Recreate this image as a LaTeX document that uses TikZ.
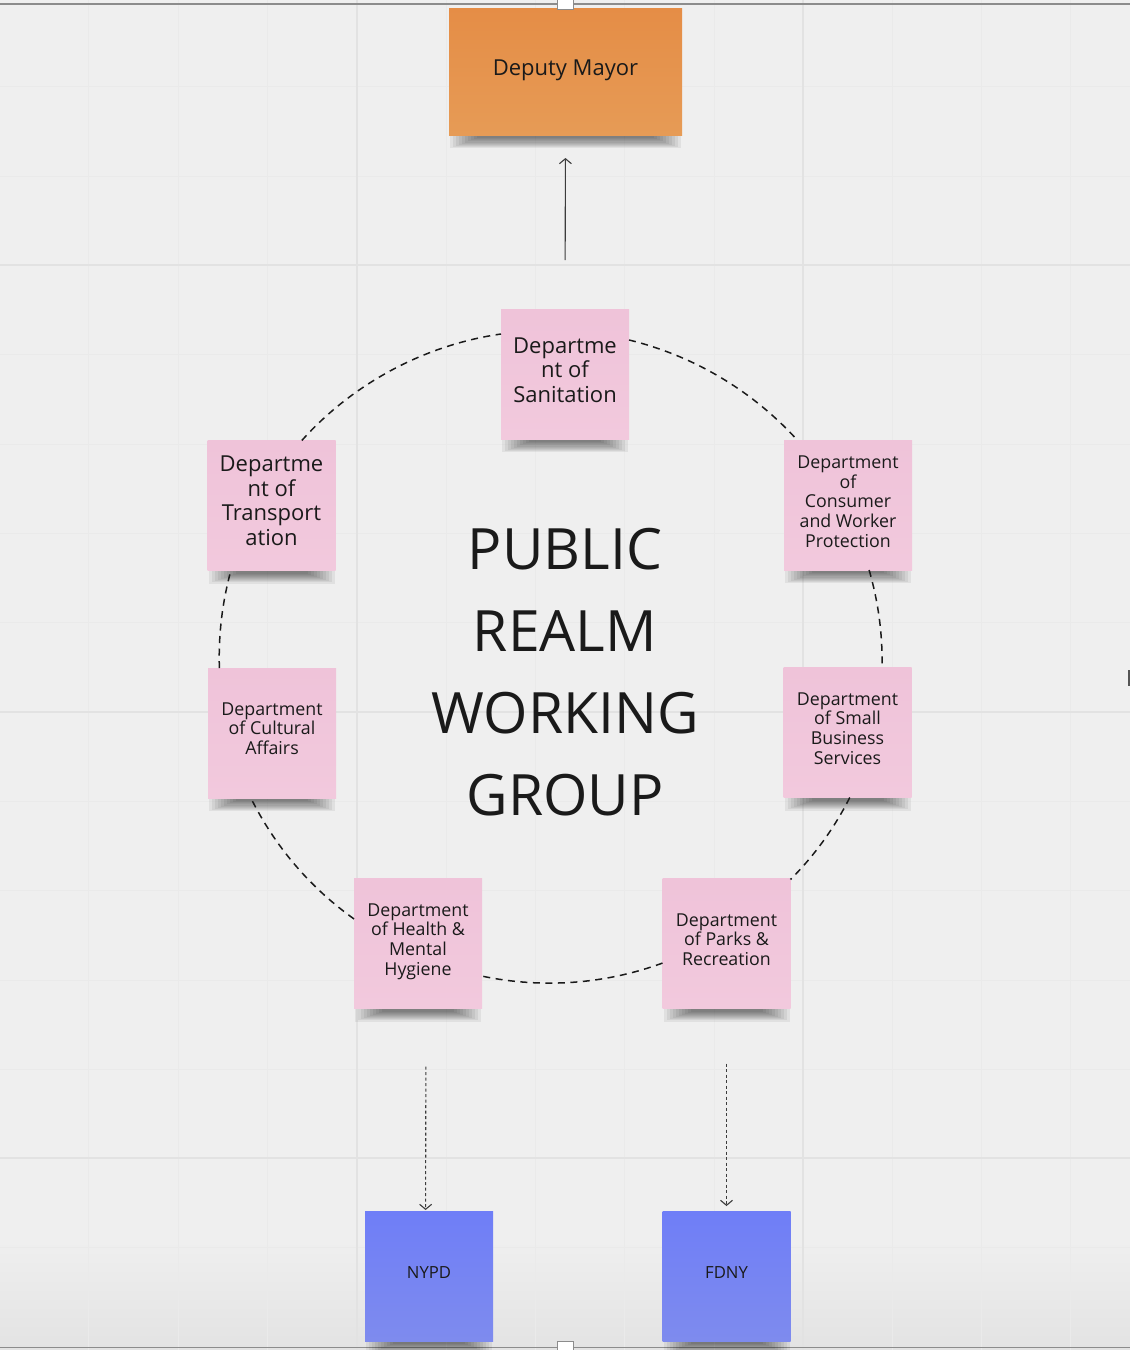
\documentclass[tikz,border=0pt]{standalone}
\usepackage{fontspec}
\setmainfont{Open Sans}
\usetikzlibrary{arrows.meta,backgrounds}
\definecolor{board}{HTML}{EFEFEF}
\definecolor{gridmajor}{HTML}{E2E2E2}
\definecolor{gridminor}{HTML}{EAEAEA}
\definecolor{inkdark}{HTML}{1A1A1A}
\definecolor{frameline}{HTML}{8C8C8C}
\definecolor{pinktop}{HTML}{EFC3D9}
\definecolor{pinkbot}{HTML}{F2C9DD}
\definecolor{bluetop}{HTML}{6F7EF7}
\definecolor{bluebot}{HTML}{7E8BEE}
\definecolor{orangetop}{HTML}{E58D46}
\definecolor{orangebot}{HTML}{E69B56}
\newcommand{\lift}[1]{\\[\dimexpr #1-\baselineskip\relax]\mbox{}}
\tikzstyle{note}=[rectangle, outer sep=0pt, inner sep=0pt, align=center, text=inkdark]
\tikzstyle{pinknote}=[note, minimum width=128pt, minimum height=130pt, top color=pinktop, bottom color=pinkbot]
\tikzstyle{bluenote}=[note, minimum width=128pt, minimum height=130pt, top color=bluetop, bottom color=bluebot, font=\fontsize{16.7}{20}\selectfont]
\tikzstyle{bignote}=[font=\fontsize{22}{24.6}\selectfont]
\tikzstyle{smallnote}=[font=\fontsize{17.8}{19.8}\selectfont]
\tikzstyle{handle}=[rectangle, draw=frameline, fill=white, line width=.8pt, outer sep=0pt, minimum width=16pt, minimum height=11pt]
\tikzstyle{ring}=[draw=inkdark, line width=1.5pt, dash pattern=on 7pt off 5.5pt, looseness=.87]
\tikzstyle{link}=[draw=inkdark!85, line width=1.1pt, -{Straight Barb[length=5pt,width=12pt]}]
\newcommand{\note}{\node[pinknote]}
\newcommand{\notedrop}[1]{%
  \foreach \d in {0,...,9}
    \fill[black, opacity=.06] ([xshift=1pt+3*\d pt]#1.south west) rectangle ([xshift=-1pt-3*\d pt, yshift=-13pt+1.1*\d pt]#1.south east);
}

\begin{document}
\begin{tikzpicture}[x=1pt, y=-1pt
  ,every edge/.style={draw}
]
\useasboundingbox (0,0) rectangle (1130,1350);
\node[note, minimum width=233pt, minimum height=127pt, top color=orangetop, bottom color=orangebot, font=\fontsize{22}{24.6}\selectfont] (mayor) at (565.5,71.5) {Deputy Mayor\lift{7pt}};
\note[bignote] (san) at (565,374) {Departme\\nt of\\Sanitation\lift{8pt}};
\note[smallnote] (cons) at (848,505) {Department\\of\\Consumer\\and Worker\\Protection\lift{7pt}};
\note[smallnote] (biz) at (847.5,732.5) {Department\\of Small\\Business\\Services\lift{8pt}};
\note[smallnote] (parks) at (726.5,943.5) {Department\\of Parks \&\\Recreation\lift{8pt}};
\note[smallnote] (health) at (418,943.5) {Department\\of Health \&\\Mental\\Hygiene\lift{8pt}};
\note[smallnote] (cult) at (272,733) {Department\\of Cultural\\Affairs\lift{9pt}};
\note[bignote] (trans) at (271.5,505.5) {Departme\\nt of\\Transport\\ation\lift{10pt}};
\node[bluenote] (nypd) at (429,1276) {NYPD\lift{6pt}};
\node[bluenote] (fdny) at (726.5,1276) {FDNY\lift{6pt}};
\node[note, font=\fontsize{57}{82}\selectfont] (title) at (565,672) {PUBLIC\\REALM\\WORKING\\GROUP};
\node[handle] (handletop) at (565,4) {};
\node[handle] (handlebot) at (565,1346.5) {};
\begin{scope}[on background layer]
\fill[board] (0,0) rectangle (1130,1350);
\shade[top color=board, bottom color=black!11] (0,1240) rectangle (1130,1350);
\foreach \gx in {-2.5,88,178,267,446,535,624,714,892,981,1070}
  \draw[gridminor, line width=1pt] (\gx,0) -- (\gx,1350);
\foreach \gy in {86,176,354,444,533,622,801,890,980,1069,1247}
  \draw[gridminor, line width=1pt] (0,\gy) -- (1130,\gy);
\foreach \gx in {357,803}
  \draw[gridmajor, line width=2.2pt] (\gx,0) -- (\gx,1350);
\foreach \gy in {265,712,1158}
  \draw[gridmajor, line width=2.2pt] (0,\gy) -- (1130,\gy);
\draw[frameline, line width=1.5pt] (0,3.8) -- (1130,3.8);
\draw[frameline, line width=1.5pt] (0,1347.5) -- (1130,1347.5);
\fill[frameline!60!black] (1128,670) rectangle (1130,686);
\notedrop{mayor}
\notedrop{san}
\notedrop{cons}
\notedrop{biz}
\notedrop{parks}
\notedrop{health}
\notedrop{cult}
\notedrop{trans}
\notedrop{nypd}
\notedrop{fdny}
\end{scope}
\path
(san.28) edge[ring, bend left=17] (cons.128)
(cons.-72) edge[ring, bend left=8.5] (biz.62.5)
(biz.-88.7) edge[ring, bend left=9] (parks.45)
(parks.197.6) edge[ring, bend left=16] (health.-27.6)
(health.159.8) edge[ring, bend left=14] (cult.-108.7)
(cult.129) edge[ring, bend left=8.4] (trans.-122.4)
(trans.65) edge[ring, bend left=20] (san.148.6)
(san.north) edge[link, shorten <=49pt, shorten >=23pt] (mayor.south)
(health.-83) edge[link, dash pattern=on 3pt off 2.5pt, shorten <=58pt, shorten >=1pt] (nypd.93.5)
(parks.south) edge[link, dash pattern=on 3pt off 2.5pt, shorten <=55pt, shorten >=5pt] (fdny.north)
;
\end{tikzpicture}
\end{document}
